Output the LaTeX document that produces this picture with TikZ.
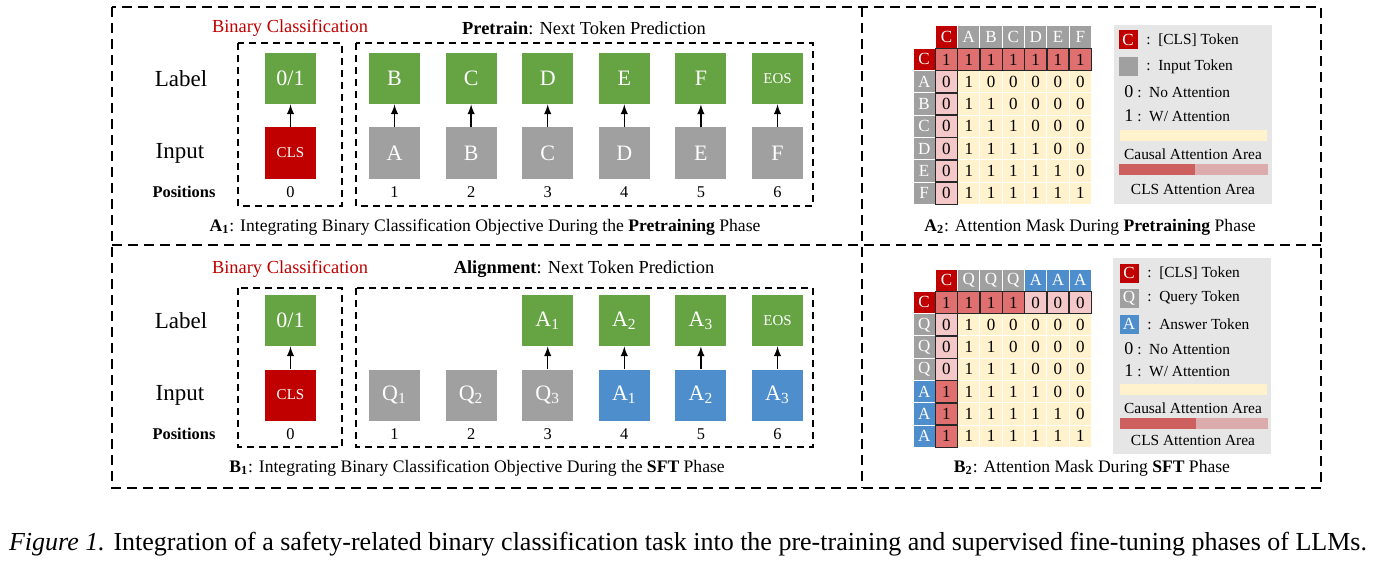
\documentclass[tikz,border=0pt]{standalone}
\usepackage{fontspec}
\setmainfont{Liberation Serif}
\usepackage{tikz}
\usetikzlibrary{arrows,shapes,positioning}
\usepackage{xcolor}

\definecolor{tokgreen}{RGB}{101,163,67}
\definecolor{tokred}{RGB}{192,0,0}
\definecolor{tokgray}{RGB}{160,160,160}
\definecolor{tokblue}{RGB}{79,142,205}
\definecolor{mask1}{RGB}{224,112,112}
\definecolor{mask0}{RGB}{244,200,200}
\definecolor{maskyel}{RGB}{255,242,204}
\definecolor{legbg}{RGB}{230,230,230}
\definecolor{bardark}{RGB}{205,95,95}
\definecolor{barlight}{RGB}{220,172,172}

\newcommand{\fs}[1]{\fontsize{#1}{#1}\selectfont}

\tikzset{
  tok/.style={minimum size=25.5pt, inner sep=0pt, fill=#1, text=white, font=\fs{11}},
  rowtxt/.style={font=\fs{11.5}},
  postxt/.style={font=\fs{8.2}},
  headtxt/.style={font=\fs{9.2}},
  captxt/.style={font=\fs{8.8}},
  uparr/.style={->, >=latex, line width=0.7pt},
  dbox/.style={dash pattern=on 3.5pt off 2.5pt, line width=0.8pt},
  obox/.style={dash pattern=on 5pt off 3pt, line width=0.9pt},
  cell/.style={minimum size=11.15pt, inner sep=0pt, font=\fs{8.5}},
  mhd/.style={cell, fill=#1, text=white, draw=white, line width=0.5pt},
  myel/.style={cell, fill=maskyel, draw=white, line width=0.5pt},
  mcls/.style={cell, fill=mask#1, draw=black!85, line width=0.7pt},
  lsq/.style={minimum size=9.5pt, inner sep=0pt, fill=#1, text=white, font=\fs{8.5}},
  ltxt/.style={font=\fs{7.7}, inner sep=1pt},
}

\begin{document}
\begin{tikzpicture}[x=0.5pt, y=-0.5pt] % {{{
    \useasboundingbox (0,0) rectangle (1381,567);
    \pgfmathsetmacro{\cellstep}{22.3}
    \pgfmathsetmacro{\tokstep}{76.6}
    % frame
    \draw[obox] (112,7) rectangle (1321,488);
    \draw[obox] (862,7) -- (862,488);
    \draw[obox] (112,245) -- (1321,245);

    \begin{scope}[shift={(0,0)}] % Pretrain tokens {{{
    \node[headtxt, text=tokred] (bcA) at (290,28) {Binary Classification};
    \node[headtxt] (ntpA) at (584,28) {\textbf{Pretrain}: Next Token Prediction};
    \draw[dbox] (238,43) rectangle (342,206);
    \draw[dbox] (356,43) rectangle (813,206);
    \node[rowtxt] (labA) at (181,78.5) {Label};
    \node[rowtxt] (inpA) at (180,153) {Input};
    \node[postxt] (posA) at (184,192) {\textbf{Positions}};
    \node[tok=tokgreen] (lA0) at (290.5,78.5) {0/1};
    \node[tok=tokred] (iA0) at (290.5,153) {\fs{7.5}CLS};
    \node[postxt] (pA0) at (290.5,192) {0};
    \draw[uparr] (iA0) -- (lA0);
        \foreach \k/\lab/\inp in {1/B/A,2/C/B,3/D/C,4/E/D,5/F/E,6/{\fs{7.5}EOS}/F} {
          \node[tok=tokgreen] (lA\k) at (317.9+\tokstep*\k,78.5) {\lab};
          \node[tok=tokgray] (iA\k) at (317.9+\tokstep*\k,153) {\inp};
          \node[postxt] (pA\k) at (317.9+\tokstep*\k,192) {\k};
          \draw[uparr] (iA\k) -- (lA\k);
        }
    \node[captxt] (capA1) at (485,227) {\textbf{A\textsubscript{1}}: Integrating Binary Classification Objective During the \textbf{Pretraining} Phase};
    \end{scope} % }}}

    \begin{scope}[shift={(0,242)}] % SFT tokens {{{
    \node[headtxt, text=tokred] (bcB) at (290,27) {Binary Classification};
    \node[headtxt] (ntpB) at (584,27) {\textbf{Alignment}: Next Token Prediction};
    \draw[dbox] (238,46) rectangle (342,205);
    \draw[dbox] (356,46) rectangle (813,205);
    \node[rowtxt] (labB) at (181,78.5) {Label};
    \node[rowtxt] (inpB) at (180,153) {Input};
    \node[postxt] (posB) at (184,192) {\textbf{Positions}};
    \node[tok=tokgreen] (lB0) at (290.5,78.5) {0/1};
    \node[tok=tokred] (iB0) at (290.5,153) {\fs{7.5}CLS};
    \node[postxt] (pB0) at (290.5,192) {0};
    \draw[uparr] (iB0) -- (lB0);
        \foreach \k/\inp/\col in {1/Q\textsubscript{1}/tokgray,2/Q\textsubscript{2}/tokgray,3/Q\textsubscript{3}/tokgray,
                                  4/A\textsubscript{1}/tokblue,5/A\textsubscript{2}/tokblue,6/A\textsubscript{3}/tokblue} {
          \node[tok=\col] (iB\k) at (317.9+\tokstep*\k,153) {\inp};
          \node[postxt] (pB\k) at (317.9+\tokstep*\k,192) {\k};
        }
        \foreach \k/\lab in {3/A\textsubscript{1},4/A\textsubscript{2},5/A\textsubscript{3},6/{\fs{7.5}EOS}} {
          \node[tok=tokgreen] (lB\k) at (317.9+\tokstep*\k,78.5) {\lab};
          \draw[uparr] (iB\k) -- (lB\k);
        }
    \node[captxt] (capB1) at (477,226) {\textbf{B\textsubscript{1}}: Integrating Binary Classification Objective During the \textbf{SFT} Phase};
    \end{scope} % }}}

    \begin{scope}[shift={(913,26)}] % Pretrain mask {{{
        \foreach \j/\t/\col in {1/C/tokred,2/A/tokgray,3/B/tokgray,4/C/tokgray,5/D/tokgray,6/E/tokgray,7/F/tokgray} {
          \node[mhd=\col] (hA0\j) at (\cellstep*\j+\cellstep/2,\cellstep/2) {\t};
          \node[mhd=\col] (hA\j0) at (\cellstep/2,\cellstep*\j+\cellstep/2) {\t};
        }
        \foreach \r in {1,...,6} {
          \foreach \c in {1,...,6} {
            \pgfmathtruncatemacro{\v}{\c<=\r}
            \node[myel] (mA\r\c) at (\cellstep*\c+1.5*\cellstep,\cellstep*\r+1.5*\cellstep) {\v};
          }
        }
        \foreach \i/\v in {2/0,3/0,4/0,5/0,6/0,7/0}
          \node[mcls=\v] (kA\i) at (1.5*\cellstep,\cellstep*\i+\cellstep/2) {\v};
        \foreach \j/\v in {1/1,2/1,3/1,4/1,5/1,6/1,7/1}
          \node[mcls=\v] (cA\j) at (\cellstep*\j+\cellstep/2,1.5*\cellstep) {\v};
    \end{scope} % }}}

    \begin{scope}[shift={(0,0)}] % Pretrain legend {{{
    \fill[legbg] (1114,25) rectangle (1272,204);
    \node[lsq=tokred] (lgCA) at (1128,40) {C};
    \node[ltxt, right=3pt of lgCA] (lgCAt) {:\ \ [CLS] Token};
    \node[lsq=tokgray] (lgIA) at (1128,67) {};
    \node[ltxt, right=3pt of lgIA] (lgIAt) {:\ \ Input Token};
    \node[ltxt, anchor=west] (lg0A) at (1122,92) {{\fs{9}0}\ :\ \ No Attention};
    \node[ltxt, anchor=west] (lg1A) at (1122,116) {{\fs{9}1}\ :\ \ W/ Attention};
    \fill[maskyel] (1120,130) rectangle (1267,141);
    \node[ltxt] (lgcauA) at (1193,154) {Causal Attention Area};
    \fill[bardark] (1119,164) rectangle (1195,175);
    \fill[barlight] (1195,164) rectangle (1268,175);
    \node[ltxt] (lgclsA) at (1193,189) {CLS Attention Area};
    \node[captxt] (capA2) at (1090,227) {\textbf{A\textsubscript{2}}: Attention Mask During \textbf{Pretraining} Phase};
    \end{scope} % }}}

    \begin{scope}[shift={(913,269)}] % SFT mask {{{
        \foreach \j/\t/\col in {1/C/tokred,2/Q/tokgray,3/Q/tokgray,4/Q/tokgray,5/A/tokblue,6/A/tokblue,7/A/tokblue} {
          \node[mhd=\col] (hB0\j) at (\cellstep*\j+\cellstep/2,\cellstep/2) {\t};
          \node[mhd=\col] (hB\j0) at (\cellstep/2,\cellstep*\j+\cellstep/2) {\t};
        }
        \foreach \r in {1,...,6} {
          \foreach \c in {1,...,6} {
            \pgfmathtruncatemacro{\v}{\c<=\r}
            \node[myel] (mB\r\c) at (\cellstep*\c+1.5*\cellstep,\cellstep*\r+1.5*\cellstep) {\v};
          }
        }
        \foreach \i/\v in {2/0,3/0,4/0,5/1,6/1,7/1}
          \node[mcls=\v] (kB\i) at (1.5*\cellstep,\cellstep*\i+\cellstep/2) {\v};
        \foreach \j/\v in {1/1,2/1,3/1,4/1,5/0,6/0,7/0}
          \node[mcls=\v] (cB\j) at (\cellstep*\j+\cellstep/2,1.5*\cellstep) {\v};
    \end{scope} % }}}

    \begin{scope}[shift={(0,0)}] % SFT legend {{{
    \fill[legbg] (1113,258) rectangle (1271,454);
    \node[lsq=tokred] (lgCB) at (1129,273) {C};
    \node[ltxt, right=3pt of lgCB] (lgCBt) {:\ \ [CLS] Token};
    \node[lsq=tokgray] (lgQB) at (1129,298) {Q};
    \node[ltxt, right=3pt of lgQB] (lgQBt) {:\ \ Query Token};
    \node[lsq=tokblue] (lgAB) at (1129,324) {A};
    \node[ltxt, right=3pt of lgAB] (lgABt) {:\ \ Answer Token};
    \node[ltxt, anchor=west] (lg0B) at (1122,349) {{\fs{9}0}\ :\ \ No Attention};
    \node[ltxt, anchor=west] (lg1B) at (1122,371) {{\fs{9}1}\ :\ \ W/ Attention};
    \fill[maskyel] (1120,384) rectangle (1267,395);
    \node[ltxt] (lgcauB) at (1193,408) {Causal Attention Area};
    \fill[bardark] (1120,418) rectangle (1196,429);
    \fill[barlight] (1196,418) rectangle (1268,429);
    \node[ltxt] (lgclsB) at (1193,440) {CLS Attention Area};
    \node[captxt] (capB2) at (1092,468) {\textbf{B\textsubscript{2}}: Attention Mask During \textbf{SFT} Phase};
    \end{scope} % }}}

    \node (figcap) at (688,544) {\fs{13}\textit{Figure 1.} Integration of a safety-related binary classification task into the pre-training and supervised fine-tuning phases of LLMs.};
\end{tikzpicture} % }}}
\end{document}
